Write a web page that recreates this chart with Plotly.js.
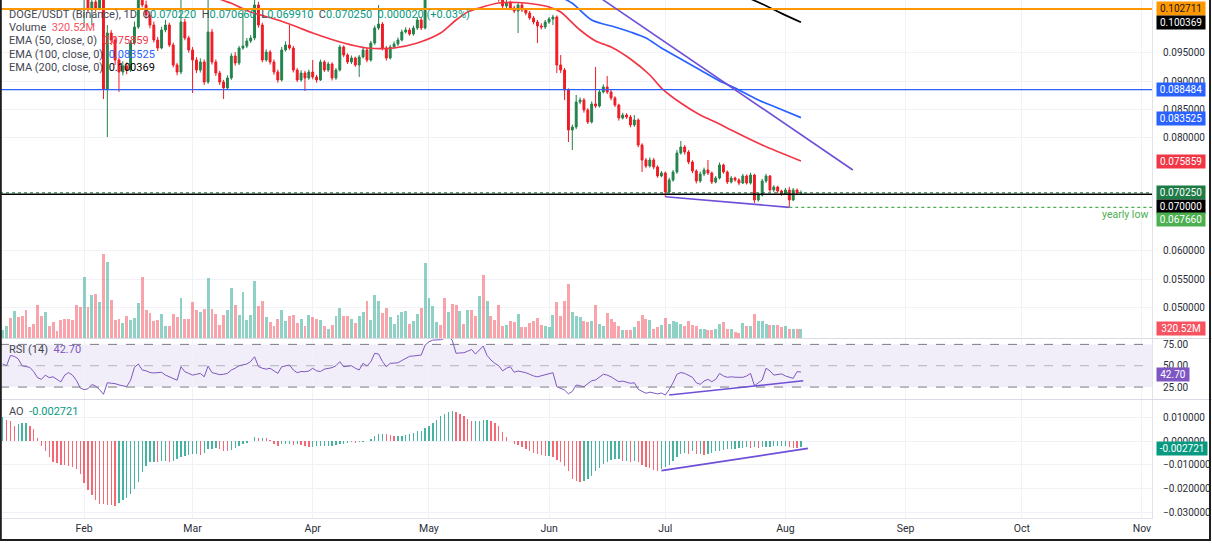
<!DOCTYPE html>
<html><head><meta charset="utf-8">
<script src="https://cdn.plot.ly/plotly-3.0.1.min.js"></script>
<style>body{margin:0;background:#fff}</style>
</head><body>
<div id="chart" style="width:1212px;height:543px"></div>
<script>
// ---------------- DATA ----------------
const startDate = '2023-01-11';
const monthTicks = ['2023-02-01','2023-03-01','2023-04-01','2023-05-01','2023-06-01','2023-07-01','2023-08-01','2023-09-01','2023-10-01','2023-11-01'];
const monthLabels = ['Feb','Mar','Apr','May','Jun','Jul','Aug','Sep','Oct','Nov'];
const priceTicks = [0.05,0.055,0.06,0.08,0.085,0.09,0.095];
const rsiTicks = [25,50,75];
const aoTicks = [0.01,0,-0.01,-0.02,-0.03];

const opens = [0.1290,0.1300,0.1320,0.1310,0.1340,0.1325,0.1300,0.1290,0.1270,0.1255,
0.1240,0.1220,0.1235,0.1210,0.1190,0.1170,0.1160,0.1140,0.1120,0.1110,
0.1095,0.1060,0.1075,0.10254,0.10396,0.10290,0.10620,0.08859,0.09848,0.09724,
0.09371,0.09159,0.09265,0.09194,0.09671,0.09954,0.10650,0.10343,0.10166,0.09989,
0.09724,0.09583,0.09901,0.09989,0.09636,0.09283,0.09159,0.10042,0.09760,0.09548,
0.09371,0.09194,0.09336,0.08982,0.09866,0.09336,0.09141,0.08982,0.08877,0.09053,
0.09442,0.09318,0.09583,0.09618,0.09707,0.09760,0.10343,0.09989,0.09371,0.09512,
0.09336,0.09159,0.09018,0.09548,0.09636,0.09583,0.09194,0.09018,0.09141,0.09053,
0.09159,0.09071,0.09018,0.09336,0.09194,0.09300,0.09053,0.09194,0.09601,0.09459,
0.09336,0.09406,0.09283,0.09424,0.09548,0.09371,0.09671,0.09936,0.10007,0.09583,
0.09406,0.09601,0.09654,0.09724,0.09866,0.09901,0.09830,0.09936,0.10078,0.09936,
0.10680,0.1120,0.1150,0.1170,0.1155,0.1140,0.1145,0.1120,0.1100,0.1110,
0.1090,0.1095,0.1085,0.1075,0.1080,0.1068,0.1072,0.1062,0.1058,0.10450,
0.10325,0.10378,0.10290,0.10237,0.10343,0.10254,0.10201,0.10113,0.10042,0.09972,
0.09954,0.10042,0.10095,0.10131,0.09283,0.09194,0.08841,0.08134,0.08187,0.08629,
0.08664,0.08488,0.08276,0.08594,0.08558,0.08806,0.08894,0.08806,0.08700,0.08576,
0.08346,0.08399,0.08364,0.08223,0.08311,0.07869,0.07604,0.07498,0.07604,0.07481,
0.07322,0.07375,0.07039,0.07251,0.07392,0.07728,0.07834,0.07746,0.07569,0.07410,
0.07233,0.07357,0.07428,0.07375,0.07216,0.07286,0.07516,0.07392,0.07216,0.07286,
0.07251,0.07198,0.07322,0.07198,0.07339,0.06898,0.06986,0.07233,0.07322,0.07074,
0.07127,0.07057,0.07004,0.07074,0.06898,0.07074,0.07022];

const highs = [0.1320,0.1335,0.1330,0.1360,0.1350,0.1330,0.1310,0.1300,0.1280,0.1265,
0.1250,0.1250,0.1240,0.1220,0.1200,0.1185,0.1170,0.1150,0.1135,0.1120,
0.1105,0.1095,0.1085,0.1060,0.1050,0.1100,0.1075,0.09989,0.09900,0.09780,
0.09420,0.09350,0.09330,0.09720,0.10050,0.1090,0.1075,0.10420,0.10230,0.10050,
0.09780,0.09960,0.10080,0.10030,0.09680,0.09320,0.1045,0.10100,0.09800,0.09600,
0.09420,0.09400,0.09380,0.1050,0.09920,0.09380,0.09180,0.09020,0.09100,0.09490,
0.09512,0.09620,0.10254,0.09760,0.09810,0.10430,0.10400,0.10030,0.09560,0.09550,
0.09380,0.09200,0.09600,0.09700,0.09989,0.09620,0.09230,0.09190,0.09180,0.09200,
0.09371,0.09110,0.09380,0.09370,0.09340,0.09330,0.09230,0.09640,0.09630,0.09490,
0.09450,0.09430,0.09460,0.09590,0.09580,0.09710,0.09980,0.10343,0.10040,0.09620,
0.09640,0.09700,0.09770,0.09910,0.09950,0.09940,0.09980,0.10130,0.10120,0.1100,
0.1140,0.1175,0.1200,0.1185,0.1165,0.1160,0.1150,0.1130,0.1125,0.1115,
0.1110,0.1100,0.1090,0.1095,0.1090,0.1085,0.1080,0.1070,0.1065,0.10480,
0.10430,0.10420,0.10330,0.10390,0.10380,0.10290,0.10240,0.10150,0.10080,0.10020,
0.10080,0.10130,0.10170,0.10160,0.09459,0.09230,0.08870,0.08230,0.08753,0.08710,
0.08700,0.08520,0.08640,0.09247,0.08850,0.08940,0.09088,0.08840,0.08730,0.08600,
0.08440,0.08430,0.08400,0.08400,0.08340,0.07900,0.07640,0.07650,0.07640,0.07510,
0.07410,0.07400,0.07290,0.07430,0.07780,0.07940,0.07870,0.07780,0.07600,0.07440,
0.07400,0.07470,0.07604,0.07400,0.07320,0.07560,0.07540,0.07420,0.07320,0.07310,
0.07280,0.07360,0.07350,0.07380,0.07360,0.07020,0.07270,0.07360,0.07339,0.07160,
0.07150,0.07080,0.07110,0.07130,0.07110,0.07100,0.07066];

const lows = [0.1275,0.1290,0.1295,0.1300,0.1310,0.1285,0.1275,0.1255,0.1240,0.1225,
0.1205,0.1210,0.1195,0.1180,0.1155,0.1145,0.1125,0.1105,0.1095,0.1080,
0.1050,0.0994,0.10200,0.09989,0.10220,0.10250,0.08682,0.08011,0.09636,0.09283,
0.08806,0.09100,0.09120,0.09160,0.09640,0.09920,0.10300,0.10100,0.09930,0.09680,
0.09530,0.09560,0.09860,0.09600,0.09240,0.09100,0.09120,0.09720,0.09500,0.08788,
0.09140,0.09150,0.08930,0.08950,0.09290,0.09090,0.08930,0.08682,0.08840,0.09020,
0.09270,0.09280,0.09550,0.09580,0.09670,0.09720,0.09940,0.09330,0.09340,0.09290,
0.09110,0.08970,0.08990,0.09520,0.09550,0.09150,0.08982,0.08990,0.08823,0.09020,
0.09030,0.08970,0.09000,0.09160,0.09160,0.09010,0.09020,0.09170,0.09420,0.09300,
0.09300,0.09250,0.09071,0.09400,0.09330,0.09340,0.09640,0.09900,0.09540,0.09360,
0.09380,0.09570,0.09620,0.09700,0.09840,0.09800,0.09800,0.09900,0.09900,0.09910,
0.1060,0.1110,0.1140,0.1135,0.1120,0.1125,0.1100,0.1085,0.1090,0.1075,
0.1080,0.1070,0.1065,0.1065,0.1058,0.1060,0.1055,0.1050,0.10400,0.10290,
0.10290,0.10250,0.10200,0.09848,0.10220,0.10160,0.10080,0.10000,0.09671,0.09910,
0.09920,0.10010,0.09989,0.09141,0.09141,0.08664,0.07922,0.07781,0.08150,0.08590,
0.08440,0.08240,0.08250,0.08520,0.08530,0.08780,0.08770,0.08660,0.08540,0.08300,
0.08320,0.08330,0.08180,0.08190,0.07830,0.07392,0.07460,0.07470,0.07440,0.07290,
0.07300,0.06951,0.07000,0.07220,0.07360,0.07700,0.07700,0.07530,0.07370,0.07190,
0.07200,0.07320,0.07340,0.07180,0.07190,0.07260,0.07360,0.07180,0.07190,0.07220,
0.07160,0.07180,0.07170,0.07170,0.06845,0.06870,0.06960,0.07200,0.07040,0.07040,
0.07020,0.06970,0.06990,0.06766,0.06880,0.06990,0.06991];

const closes = [0.1300,0.1320,0.1310,0.1340,0.1325,0.1300,0.1290,0.1270,0.1255,0.1240,
0.1220,0.1235,0.1210,0.1190,0.1170,0.1160,0.1140,0.1120,0.1110,0.1095,
0.1060,0.1075,0.10254,0.10396,0.10290,0.10620,0.08859,0.09848,0.09724,0.09371,
0.09159,0.09265,0.09194,0.09671,0.09954,0.10650,0.10343,0.10166,0.09989,0.09724,
0.09583,0.09901,0.09989,0.09636,0.09283,0.09159,0.10042,0.09760,0.09548,0.09371,
0.09194,0.09336,0.08982,0.09866,0.09336,0.09141,0.08982,0.08877,0.09053,0.09442,
0.09318,0.09583,0.09618,0.09707,0.09760,0.10343,0.09989,0.09371,0.09512,0.09336,
0.09159,0.09018,0.09548,0.09636,0.09583,0.09194,0.09018,0.09141,0.09053,0.09159,
0.09071,0.09018,0.09336,0.09194,0.09300,0.09053,0.09194,0.09601,0.09459,0.09336,
0.09406,0.09283,0.09424,0.09548,0.09371,0.09671,0.09936,0.10007,0.09583,0.09406,
0.09601,0.09654,0.09724,0.09866,0.09901,0.09830,0.09936,0.10078,0.09936,0.10680,
0.1120,0.1150,0.1170,0.1155,0.1140,0.1145,0.1120,0.1100,0.1110,0.1090,
0.1095,0.1085,0.1075,0.1080,0.1068,0.1072,0.1062,0.1058,0.10450,0.10325,
0.10378,0.10290,0.10237,0.10343,0.10254,0.10201,0.10113,0.10042,0.09972,0.09954,
0.10042,0.10095,0.10131,0.09283,0.09194,0.08841,0.08134,0.08187,0.08629,0.08664,
0.08488,0.08276,0.08594,0.08558,0.08806,0.08894,0.08806,0.08700,0.08576,0.08346,
0.08399,0.08364,0.08223,0.08311,0.07869,0.07604,0.07498,0.07604,0.07481,0.07322,
0.07375,0.07039,0.07251,0.07392,0.07728,0.07834,0.07746,0.07569,0.07410,0.07233,
0.07357,0.07428,0.07375,0.07216,0.07286,0.07516,0.07392,0.07216,0.07286,0.07251,
0.07198,0.07322,0.07198,0.07339,0.06898,0.06986,0.07233,0.07322,0.07074,0.07127,
0.07057,0.07004,0.07074,0.06898,0.07074,0.07023,0.07025];

const volumesM = [262,422,684,912,718,741,946,365,479,1140,
764,889,422,536,228,627,661,661,627,1117,
1049,2109,1049,1482,1516,1220,2884,2622,1311,604,
661,513,764,627,695,1197,2109,946,855,570,
627,832,399,399,832,718,1368,661,661,1220,
969,878,1003,2075,1003,832,456,798,946,1710,
1117,798,1562,627,798,1961,1083,1254,707,536,
399,661,946,593,764,798,513,650,422,775,
718,650,627,399,308,456,764,1026,764,764,
661,513,741,878,1254,627,1482,1277,855,1026,
718,490,798,878,935,490,570,832,
1026,2565,1368,1083,536,456,1368,878,1174,1140,
912,490,946,969,764,1425,2166,1277,741,627,
1140,422,456,593,536,832,365,365,513,570,
684,456,422,365,798,1220,741,1254,1858,878,
741,718,570,536,570,1117,479,422,855,661,
536,422,262,262,262,365,593,798,650,627,
319,365,456,684,490,570,536,490,422,593,
433,422,319,308,285,285,308,479,536,308,
319,194,171,513,422,422,832,593,593,490,
456,456,456,376,399,308,308,308,320.52];

const rsi14 = [52,50,62,61,58,50,49,48,43,36,
34,39,36,37,34,31,39,42,39,33,
24,22,23,28,26,22,16.5,30,29.5,29,
27.5,26.5,25.5,33,48,52,45,44,42,41.5,
42,42.3,39,37,35,33,48.8,43,41,39,
40,41,37,49.6,42,41,39.5,40,41,45,
47,50,51,52,55,60.5,49,47,46,47,
44,41,48.8,50,50.8,45,41.8,43.2,43,43.8,
47,44,43.2,46,47,47.7,50,54.7,48.8,49,
50,47,45,52.8,49.6,54.7,64.5,63.7,55,48.8,
52.8,53,53.5,56,58.7,61,61.4,62,62.5,74,
78,80,80,80.5,82,84,80,64.5,65,65.2,
67,69,63.7,68,73,62,56.7,52.8,50,44,
47,48.8,42.3,43.8,43,41.8,40,38,37,38,
39,40,41.8,25.4,23,21.5,17,20,27.4,26,
25.4,29,32.4,33.3,37,40,39,37,34,31.3,
32,31,29.4,30,22.4,20,17.7,19,18.3,17,
18,15.7,22,30,40,42,41,39,36.4,30,
28.2,32,34,31.3,34,41,38,36.4,37,36.5,
36.4,36.4,38,41,26.6,30,33.3,47,44,39,
40,40.4,38,37,35.2,43,42.7];

const aoValues = [0.0100,0.0090,0.0083,0.0063,0.0072,0.0076,0.0076,0.0063,0.0049,0.0014,
-0.0021,-0.0042,-0.0069,-0.0090,-0.0094,-0.0100,-0.0101,-0.0104,-0.0111,-0.0118,
-0.0139,-0.0178,-0.0208,-0.0229,-0.0250,-0.0264,-0.0267,-0.0268,-0.0271,-0.0274,
-0.0261,-0.0247,-0.0239,-0.0222,-0.0201,-0.0174,-0.0132,-0.0104,-0.0090,-0.0088,
-0.0090,-0.0083,-0.0083,-0.0090,-0.0083,-0.0076,-0.0069,-0.0063,-0.0058,-0.0056,
-0.0053,-0.0058,-0.0049,-0.0035,-0.0035,-0.0028,-0.0035,-0.0042,-0.0044,-0.0039,
-0.0028,-0.0021,-0.0014,-0.0007,0.0000,0.0017,0.0014,0.0014,0.0011,0.0003,
-0.0014,-0.0021,-0.0014,-0.0014,-0.0014,-0.0017,-0.0014,-0.0018,-0.0021,-0.0025,
-0.0025,-0.0021,-0.0021,-0.0021,-0.0021,-0.0021,-0.0017,-0.0014,-0.0011,-0.0007,
-0.0003,-0.0007,-0.0004,-0.0004,0.0000,0.0007,0.0021,0.0028,0.0031,0.0028,
0.0025,0.0021,0.0021,0.0021,0.0025,0.0031,0.0035,0.0042,0.0044,0.0056,
0.0063,0.0076,0.0090,0.0104,0.0114,0.0122,0.0125,0.0122,0.0115,0.0104,
0.0094,0.0086,0.0086,0.0086,0.0090,0.0090,0.0086,0.0076,0.0063,0.0039,
0.0017,0.0000,-0.0011,-0.0017,-0.0025,-0.0035,-0.0042,-0.0049,-0.0056,-0.0058,
-0.0063,-0.0063,-0.0069,-0.0081,-0.0090,-0.0104,-0.0128,-0.0160,-0.0169,-0.0174,
-0.0169,-0.0160,-0.0146,-0.0128,-0.0114,-0.0097,-0.0090,-0.0081,-0.0076,-0.0076,
-0.0083,-0.0083,-0.0090,-0.0083,-0.0090,-0.0100,-0.0108,-0.0114,-0.0122,-0.0125,
-0.0118,-0.0108,-0.0100,-0.0083,-0.0069,-0.0056,-0.0049,-0.0053,-0.0042,-0.0056,
-0.0056,-0.0058,-0.0053,-0.0049,-0.0044,-0.0042,-0.0039,-0.0035,-0.0035,-0.0035,
-0.0031,-0.0028,-0.0025,-0.0028,-0.0025,-0.0028,-0.0025,-0.0025,-0.0025,-0.0021,
-0.0021,-0.0021,-0.0021,-0.0025,-0.0028,-0.0031,-0.002721];

// EMA readings (bar index, value)
const ema50Idx = [52,56,59,64,71,76,80,88,94,101,107,113,117,120,123,128,133,137,141,144,146,149,153,157,162,167,170,175,180,185,188,196,206];
const ema50Val = [0.10643,0.10449,0.10373,0.10219,0.10078,0.09954,0.09848,0.09671,0.09583,0.09583,0.09671,0.09848,0.10078,0.10219,0.10290,0.10378,0.10387,0.10360,0.10307,0.10219,0.10095,0.09901,0.09707,0.09601,0.09389,0.09106,0.08876,0.08611,0.08399,0.08240,0.08134,0.07869,0.075859];
const ema100Idx = [144,147,152,158,162,166,170,175,180,185,189,195,200,206];
const ema100Val = [0.10484,0.10373,0.10078,0.09954,0.09866,0.09760,0.09583,0.09389,0.09194,0.09000,0.08876,0.08664,0.08523,0.083525];
const ema200Idx = [190,196,201,206];
const ema200Val = [0.1054,0.10360,0.10195,0.100369];

// horizontal levels
const levelOrange = 0.102711, levelBlue = 0.088484, levelBlack = 0.070000, lastPrice = 0.070250, yearlyLow = 0.067660;
// drawn trend lines: [startIdx, startVal, endIdx, endVal]
const priceTrend = [151.6, 0.10590, 219.4, 0.07428];
const priceSupport = [171, 0.06956, 203, 0.06768];
const rsiTrend = [172, 15.7, 206.6, 32.3];
const aoTrend = [170, -0.0125, 207.8, -0.0031];

// ---------------- BUILD ----------------
const DAY = 86400000;
const t0 = Date.parse(startDate + 'T00:00:00Z');
function dateAt(i){ return new Date(t0 + i*DAY).toISOString().slice(0,19).replace('T',' '); }
const dates = closes.map((_, i) => dateAt(i).slice(0,10));

const G = '#23824b', R = '#f01b24';
const volColors = closes.map((c,i) => c >= opens[i] ? 'rgba(8,153,129,0.45)' : 'rgba(242,54,69,0.45)');
const aoColors = aoValues.map((v,i) => (i === 0 || v >= aoValues[i-1]) ? 'rgba(8,153,129,0.75)' : 'rgba(242,54,69,0.75)');

const PW = 1152, PH = 518;
const px = x => x / PW;
const py = y => (PH - y) / PH;

const traces = [
  {type:'candlestick', x:dates, open:opens, high:highs, low:lows, close:closes, xaxis:'x', yaxis:'y',
   increasing:{line:{color:G,width:1}, fillcolor:G}, decreasing:{line:{color:R,width:1}, fillcolor:R},
   whiskerwidth:0, hoverinfo:'skip'},
  {type:'bar', x:dates, y:volumesM, xaxis:'x', yaxis:'y4', marker:{color:volColors}, width:0.75*DAY, hoverinfo:'skip'},
  {type:'scatter', mode:'lines', x:ema50Idx.map(dateAt), y:ema50Val, xaxis:'x', yaxis:'y', line:{color:'#f23645', width:1.7, shape:'spline', smoothing:0.8}, hoverinfo:'skip'},
  {type:'scatter', mode:'lines', x:ema100Idx.map(dateAt), y:ema100Val, xaxis:'x', yaxis:'y', line:{color:'#2962ff', width:1.7, shape:'spline', smoothing:0.8}, hoverinfo:'skip'},
  {type:'scatter', mode:'lines', x:ema200Idx.map(dateAt), y:ema200Val, xaxis:'x', yaxis:'y', line:{color:'#000000', width:1.7, shape:'spline'}, hoverinfo:'skip'},
  {type:'scatter', mode:'lines', x:dates, y:rsi14, xaxis:'x', yaxis:'y2', line:{color:'#7e57c2', width:1}, hoverinfo:'skip'},
  {type:'bar', x:dates, y:aoValues, xaxis:'x', yaxis:'y3', marker:{color:aoColors}, width:0.35*DAY, hoverinfo:'skip'}
];

const tickFont = {family:'Roboto', size:10, color:'#2a2e39'};
const gridC = '#f0f2f7';

const shapes = [
  {type:'rect', xref:'paper', yref:'y2', x0:0, x1:1, y0:25, y1:75, fillcolor:'rgba(126,87,194,0.1)', line:{width:0}, layer:'below'},
  {type:'line', xref:'paper', yref:'y2', x0:0, x1:1, y0:75, y1:75, line:{color:'#787b86', width:1, dash:'dash'}},
  {type:'line', xref:'paper', yref:'y2', x0:0, x1:1, y0:50, y1:50, line:{color:'rgba(120,123,134,0.5)', width:1, dash:'dash'}},
  {type:'line', xref:'paper', yref:'y2', x0:0, x1:1, y0:25, y1:25, line:{color:'#787b86', width:1, dash:'dash'}},
  {type:'line', xref:'paper', yref:'y', x0:0, x1:1, y0:levelOrange, y1:levelOrange, line:{color:'#ff9800', width:2}},
  {type:'line', xref:'paper', yref:'y', x0:0, x1:1, y0:levelBlue, y1:levelBlue, line:{color:'#2962ff', width:1.3}},
  {type:'line', xref:'paper', yref:'y', x0:0, x1:1, y0:lastPrice, y1:lastPrice, line:{color:'#1e7b45', width:1, dash:'dot'}},
  {type:'line', xref:'paper', yref:'y', x0:0, x1:1, y0:levelBlack, y1:levelBlack, line:{color:'#000000', width:1.6}},
  {type:'line', xref:'x', yref:'y', x0:dateAt(203), x1:dateAt(296.6), y0:yearlyLow, y1:yearlyLow, line:{color:'#4caf50', width:1.3, dash:'dot'}},
  {type:'line', xref:'x', yref:'y', x0:dateAt(priceTrend[0]), y0:priceTrend[1], x1:dateAt(priceTrend[2]), y1:priceTrend[3], line:{color:'#6f4fd8', width:1.6}},
  {type:'line', xref:'x', yref:'y', x0:dateAt(priceSupport[0]), y0:priceSupport[1], x1:dateAt(priceSupport[2]), y1:priceSupport[3], line:{color:'#6f4fd8', width:1.6}},
  {type:'line', xref:'x', yref:'y2', x0:dateAt(rsiTrend[0]), y0:rsiTrend[1], x1:dateAt(rsiTrend[2]), y1:rsiTrend[3], line:{color:'#6f4fd8', width:1.6}},
  {type:'line', xref:'x', yref:'y3', x0:dateAt(aoTrend[0]), y0:aoTrend[1], x1:dateAt(aoTrend[2]), y1:aoTrend[3], line:{color:'#6f4fd8', width:1.8}},
  {type:'line', xref:'paper', yref:'paper', x0:0, x1:1.06, y0:py(338.5), y1:py(338.5), line:{color:'#d8dbe3', width:1}},
  {type:'line', xref:'paper', yref:'paper', x0:0, x1:1.06, y0:py(399.5), y1:py(399.5), line:{color:'#d8dbe3', width:1}},
  {type:'rect', xref:'paper', yref:'paper', x0:px(0.8), x1:px(1210), y0:py(540), y1:py(-6), line:{color:'#1e1e1e', width:2}, fillcolor:'rgba(0,0,0,0)'}
];

function tag(text, ypx, bg, fg, w){
  return {xref:'paper', yref:'paper', x:px(1156), y:py(ypx), xanchor:'left', yanchor:'middle', text:text, showarrow:false,
    bgcolor:bg, font:{family:'Roboto', size:10, color:fg}, width:w||46, height:11, borderpad:1, align:'center'};
}
function leg(text, ypx){
  return {xref:'paper', yref:'paper', x:px(7), y:py(ypx), xanchor:'left', yanchor:'middle', text:text, showarrow:false,
    font:{family:'Roboto', size:11, color:'#434651'}, align:'left'};
}
const gv = s => '<span style="color:#089981">' + s + '</span>';
const annotations = [
  leg('DOGE/USDT (Binance), 1D&nbsp;&nbsp;O' + gv('0.070220') + '&nbsp;&nbsp;H' + gv('0.070660') + '&nbsp;&nbsp;L' + gv('0.069910') + '&nbsp;&nbsp;C' + gv('0.070250') + '&nbsp;&nbsp;' + gv('0.000020 (+0.03%)'), 14.3),
  leg('Volume&nbsp;&nbsp;<span style="color:#f7525f">320.52M</span>', 27.5),
  leg('EMA (50, close, 0)&nbsp;&nbsp;<span style="color:#f23645">0.075859</span>', 40.8),
  leg('EMA (100, close, 0)&nbsp;&nbsp;<span style="color:#2962ff">0.083525</span>', 54.2),
  leg('EMA (200, close, 0)&nbsp;&nbsp;<span style="color:#000000">0.100369</span>', 67.6),
  leg('RSI (14)&nbsp;&nbsp;<span style="color:#7e57c2">42.70</span>', 349.5),
  leg('AO&nbsp;&nbsp;' + gv('-0.002721'), 411.5),
  {xref:'paper', yref:'paper', x:px(1150), y:py(215), xanchor:'right', yanchor:'middle', text:'yearly low', showarrow:false,
   font:{family:'Roboto', size:10.5, color:'#4caf50'}},
  tag('0.102711', 8.5, '#ff9800', '#131722'),
  tag('0.100369', 22, '#000000', '#ffffff'),
  tag('0.088484', 89, '#2962ff', '#ffffff'),
  tag('0.083525', 118, '#2962ff', '#ffffff'),
  tag('0.075859', 161, '#f23645', '#ffffff'),
  tag('0.070250', 192.5, '#1e7b45', '#ffffff'),
  tag('0.070000', 206, '#000000', '#ffffff'),
  tag('0.067660', 219, '#4caf50', '#ffffff'),
  tag('320.52M', 328.5, '#f7525f', '#ffffff'),
  tag('42.70', 374, '#7e57c2', '#ffffff', 30),
  tag('-0.002721', 449, '#089981', '#ffffff', 48)
];

const layout = {
  width:1212, height:543, margin:{l:0, r:60, t:0, b:25},
  paper_bgcolor:'#ffffff', plot_bgcolor:'#ffffff', showlegend:false,
  font:{family:'Roboto', size:10, color:'#2a2e39'},
  bargap:0,
  xaxis:{type:'date', anchor:'y3', range:[dateAt(-0.7), dateAt(296.6)], tickvals:monthTicks, ticktext:monthLabels,
    tickfont:{family:'Roboto', size:10.5, color:'#2a2e39'}, showgrid:true, gridcolor:gridC, zeroline:false, ticks:'', showline:true, linecolor:'#e0e3eb',
    rangeslider:{visible:false}, fixedrange:true},
  yaxis:{domain:[py(338), 1], side:'right', anchor:'x', range:[0.044593, 0.104311],
    tickvals:priceTicks, tickformat:'.6f',
    tickfont:tickFont, showgrid:true, gridcolor:gridC, zeroline:false, ticks:'', ticklabelstandoff:8,
    showline:true, linecolor:'#e0e3eb'},
  yaxis4:{overlaying:'y', anchor:'x', side:'left', range:[0, 11600], visible:false, showgrid:false},
  yaxis2:{domain:[py(399), py(339)], side:'right', anchor:'x', range:[11.0, 81.3], tickvals:rsiTicks, tickformat:'.2f',
    tickfont:tickFont, showgrid:false, zeroline:false, ticks:'', ticklabelstandoff:8, showline:true, linecolor:'#e0e3eb'},
  yaxis3:{domain:[0, py(400)], side:'right', anchor:'x', range:[-0.03242, 0.01726], tickvals:aoTicks, tickformat:'.6f',
    tickfont:tickFont, showgrid:true, gridcolor:gridC, zeroline:false, ticks:'', ticklabelstandoff:8, showline:true, linecolor:'#e0e3eb'},
  shapes:shapes,
  annotations:annotations
};

Plotly.newPlot('chart', traces, layout, {staticPlot:true, displayModeBar:false});
</script>
</body></html>
